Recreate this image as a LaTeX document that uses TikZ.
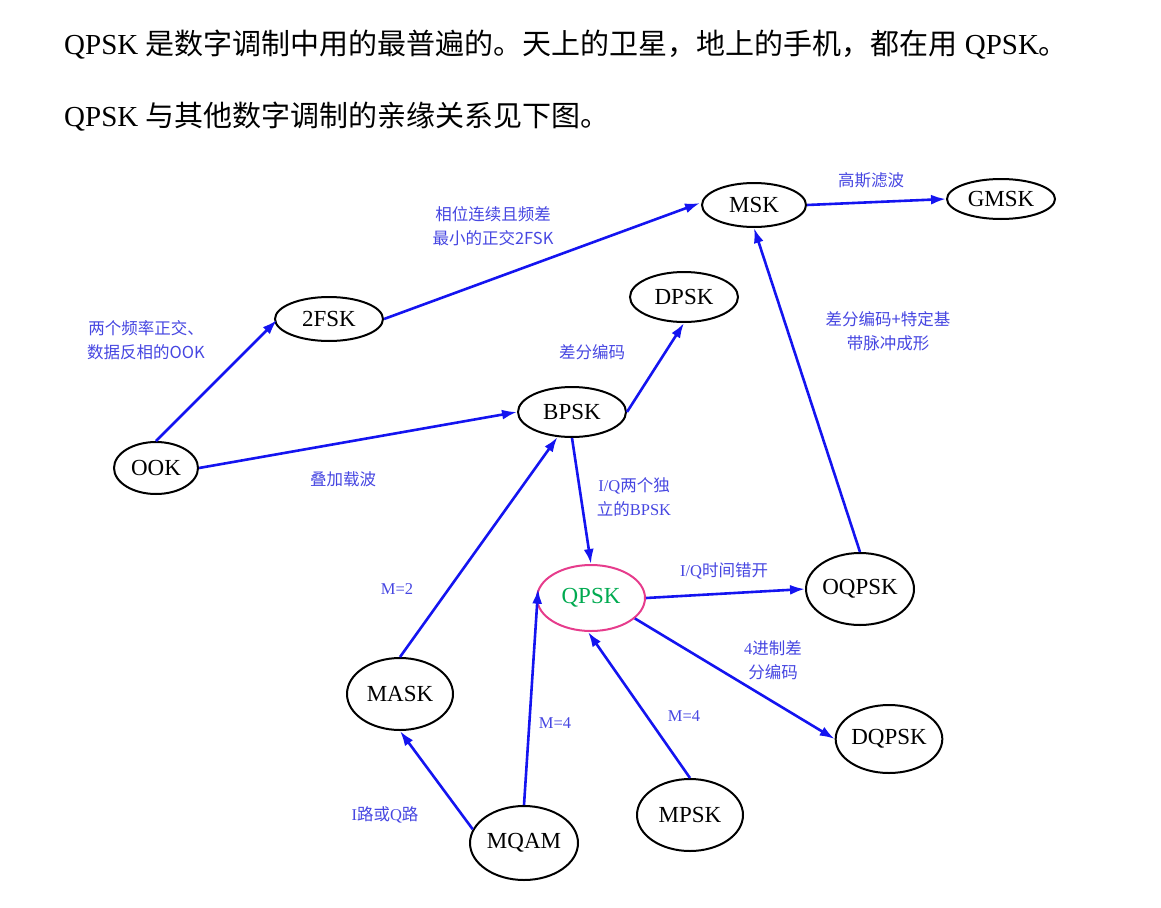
\documentclass[tikz,border=0pt]{standalone}
\usepackage{fontspec}
\setmainfont{Liberation Serif}
\newfontfamily\cjk{Noto Sans CJK SC}
\usetikzlibrary{shapes.geometric,arrows.meta}
\definecolor{arr}{RGB}{20,20,240}
\definecolor{lab}{RGB}{70,70,225}
\definecolor{qpink}{RGB}{230,60,140}
\definecolor{qgreen}{RGB}{0,170,80}
\tikzset{
 el/.style={ellipse,draw,line width=2pt,minimum width=#1,inner sep=0pt,font=\fontsize{23}{24}\selectfont},
 ar/.style={-{Latex[length=15pt,width=10pt]},line width=2.6pt,draw=arr},
 lb/.style={text=lab,font=\fontsize{16.5}{24}\selectfont,align=center}
}
\begin{document}
\begin{tikzpicture}[x=1pt,y=-1pt]
\useasboundingbox (0,0) rectangle (1161,907);
\node[anchor=west,font=\fontsize{29}{30}\selectfont,inner sep=0pt] (t1) at (64,45) {QPSK {\cjk 是数字调制中用的最普遍的。天上的卫星，地上的手机，都在用} QPSK{\cjk 。}};
\node[anchor=west,font=\fontsize{29}{30}\selectfont,inner sep=0pt] (t2) at (64,117) {QPSK {\cjk 与其他数字调制的亲缘关系见下图。}};
\node[el=104pt,minimum height=44pt] (msk) at (754,205) {MSK};
\node[el=108pt,minimum height=40pt] (gmsk) at (1001,199) {GMSK};
\node[el=108pt,minimum height=44pt] (fsk) at (329,319) {2FSK};
\node[el=108pt,minimum height=50pt] (dpsk) at (684,297) {DPSK};
\node[el=108pt,minimum height=50pt] (bpsk) at (572,412) {BPSK};
\node[el=84pt,minimum height=52pt] (ook) at (156,468) {OOK};
\node[el=108pt,minimum height=66pt,draw=qpink,text=qgreen] (qpsk) at (591,598) {QPSK};
\node[el=108pt,minimum height=72pt] (oqpsk) at (860,589) {OQPSK};
\node[el=106pt,minimum height=72pt] (mask) at (400,694) {MASK};
\node[el=106pt,minimum height=68pt] (dqpsk) at (889,739) {DQPSK};
\node[el=106pt,minimum height=72pt] (mpsk) at (690,815) {MPSK};
\node[el=108pt,minimum height=74pt] (mqam) at (524,843) {MQAM};
\draw[ar] (ook.north) -- (277,320);
\draw[ar] (fsk.east) -- (700,203);
\draw[ar] (msk.east) -- (gmsk.west);
\draw[ar] (ook.east) -- (bpsk.west);
\draw[ar] (bpsk.east) -- (dpsk.south);
\draw[ar] (bpsk.south) -- (qpsk.north);
\draw[ar] (qpsk.east) -- (oqpsk.west);
\draw[ar] (oqpsk.north) -- (msk.south);
\draw[ar] (qpsk.-25) -- (dqpsk.west);
\draw[ar] (mask.north) -- (bpsk.-120);
\draw[ar] (mqam.165) -- (mask.south);
\draw[ar] (mqam.north) -- (qpsk.170);
\draw[ar] (mpsk.north) -- (qpsk.-95);
\node[lb] (l1) at (493,226) {\cjk 相位连续且频差\\\cjk 最小的正交2FSK};
\node[lb] (l2) at (871,180) {\cjk 高斯滤波};
\node[lb] (l3) at (146,340) {\cjk 两个频率正交、\\\cjk 数据反相的OOK};
\node[lb] (l4) at (592,352) {\cjk 差分编码};
\node[lb] (l5) at (888,331) {\cjk 差分编码+特定基\\\cjk 带脉冲成形};
\node[lb] (l6) at (343,479) {\cjk 叠加载波};
\node[lb] (l7) at (634,497) {I/Q{\cjk 两个独}\\{\cjk 立的}BPSK};
\node[lb] (l8) at (724,571) {I/Q{\cjk 时间错开}};
\node[lb] (l9) at (773,660) {4{\cjk 进制差}\\{\cjk 分编码}};
\node[lb] (l10) at (397,589) {M=2};
\node[lb] (l11) at (555,723) {M=4};
\node[lb] (l12) at (684,716) {M=4};
\node[lb] (l13) at (385,815) {I{\cjk 路或}Q{\cjk 路}};
\end{tikzpicture}
\end{document}
